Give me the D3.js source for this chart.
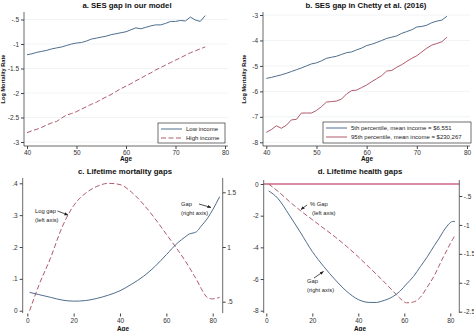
<!DOCTYPE html>
<html>
<head>
<meta charset="utf-8">
<script src="https://cdn.jsdelivr.net/npm/d3@7"></script>
<style>
  body { margin: 0; background: #fff; }
  svg { display: block; font-family: 'Liberation Sans', Arial, sans-serif; }
  .tick text { fill: #333; }
</style>
</head>
<body>
<div id="chart"></div>
<script>
// ---- data ----

// a. model: log mortality rate by age
var agesA = d3.range(40, 77)
var lowIncome = [-1.22, -1.20, -1.17, -1.15, -1.13, -1.10, -1.08, -1.06, -1.03, -1.00,
  -0.98, -0.97, -0.94, -0.90, -0.88, -0.86, -0.84, -0.81, -0.79, -0.77,
  -0.75, -0.71, -0.67, -0.69, -0.66, -0.63, -0.61, -0.61, -0.58, -0.54,
  -0.54, -0.52, -0.53, -0.45, -0.51, -0.54, -0.42]
var highIncome = [-2.81, -2.77, -2.74, -2.70, -2.65, -2.61, -2.58, -2.51, -2.45, -2.42,
  -2.38, -2.33, -2.28, -2.23, -2.19, -2.13, -2.08, -2.03, -1.97, -1.91,
  -1.86, -1.81, -1.75, -1.70, -1.64, -1.59, -1.53, -1.48, -1.43, -1.38,
  -1.33, -1.28, -1.23, -1.18, -1.14, -1.10, -1.06]

// b. Chetty et al. percentiles
var agesB = d3.range(40, 77)
var pct5 = [-5.49, -5.45, -5.40, -5.35, -5.29, -5.22, -5.15, -5.08, -5.00, -4.92,
  -4.88, -4.80, -4.70, -4.66, -4.62, -4.55, -4.48, -4.45, -4.37, -4.30,
  -4.20, -4.15, -4.08, -4.00, -3.92, -3.87, -3.82, -3.72, -3.65, -3.58,
  -3.47, -3.45, -3.40, -3.30, -3.24, -3.20, -3.05]
var pct95 = [-7.61, -7.50, -7.35, -7.45, -7.33, -7.12, -7.10, -6.85, -6.85, -6.85,
  -6.75, -6.60, -6.42, -6.40, -6.38, -6.30, -6.10, -5.97, -5.95, -5.85,
  -5.75, -5.62, -5.50, -5.38, -5.20, -5.18, -5.05, -4.95, -4.82, -4.70,
  -4.60, -4.45, -4.30, -4.18, -4.12, -4.05, -3.87]

// c. lifetime mortality gaps
var agesC = [1, 5, 10, 15, 20, 25, 30, 35, 40, 45, 50, 55, 60, 65, 68, 70, 72, 73, 75, 78, 80, 83]
var logGap = [0.0, 0.08, 0.165, 0.262, 0.33, 0.368, 0.39, 0.40, 0.396, 0.372, 0.335, 0.29,
  0.24, 0.19, 0.158, 0.135, 0.11, 0.098, 0.07, 0.04, 0.037, 0.042]
var mortGap = [0.585, 0.565, 0.54, 0.515, 0.505, 0.51, 0.53, 0.56, 0.60, 0.66, 0.73, 0.82,
  0.93, 1.04, 1.09, 1.12, 1.13, 1.14, 1.19, 1.27, 1.34, 1.46]

// d. lifetime health gaps
var agesD = [1, 5, 10, 15, 20, 25, 30, 35, 40, 45, 48, 50, 55, 58, 61, 64, 67, 70, 73, 75, 77, 79, 80, 81, 82]
var pctGap = [0, -0.45, -1.1, -1.7, -2.25, -2.8, -3.35, -3.95, -4.6, -5.3, -5.72, -6.0,
  -6.75, -7.2, -7.5, -7.45, -7.15, -6.5, -5.8, -5.2, -4.6, -4.05, -3.75, -3.5, -3.25]
var healthGap = [-0.41, -0.54, -0.83, -1.14, -1.46, -1.72, -1.95, -2.15, -2.29, -2.34, -2.34,
  -2.32, -2.24, -2.15, -2.02, -1.89, -1.72, -1.55, -1.36, -1.24, -1.11, -1.0, -0.96, -0.94, -0.94]

var ticksA = [-3, -2.5, -2, -1.5, -1, -0.5]
var ticksB = [-8, -7, -6, -5, -4, -3]
var ticksAgeAB = [40, 50, 60, 70, 80]
var ticksAgeCD = [0, 20, 40, 60, 80]
var ticksCLeft = [0, 0.1, 0.2, 0.3, 0.4]
var ticksCRight = [0.5, 1, 1.5]
var ticksDLeft = [-8, -6, -4, -2, 0]
var ticksDRight = [-2.5, -2, -1.5, -1, -0.5]

// ---- styles ----
var blue = '#4f6e8e'
var red = '#b05a6b'
var axisColor = '#444'
var fmt = function(d) { return String(d).replace(/^(-?)0\./, '$1.') }

var svg = d3.select('#chart')
  .append('svg')
  .attr('width', 474)
  .attr('height', 331)

svg.append('defs').append('marker')
  .attr('id', 'arrow')
  .attr('viewBox', '0 0 10 10')
  .attr('refX', 9)
  .attr('refY', 5)
  .attr('markerWidth', 5)
  .attr('markerHeight', 5)
  .attr('orient', 'auto')
  .append('path')
  .attr('d', 'M0,1L10,5L0,9Z')
  .attr('fill', '#222')

// Draws a vertical axis with ticks and labels; the line spans the plot box
function yAxis(scale, ticks, x, box, side) {
  var ax = side === 'left' ? d3.axisLeft(scale) : d3.axisRight(scale)
  ax.tickValues(ticks).tickFormat(fmt).tickSize(3).tickPadding(side === 'left' ? 2 : 1.5)
  var g = svg.append('g')
    .attr('transform', 'translate(' + x + ',0)')
    .call(ax)
  g.select('.domain').remove()
  g.selectAll('.tick line').attr('stroke', axisColor)
  g.selectAll('.tick text').attr('font-size', 6.5)
  svg.append('line')
    .attr('x1', x).attr('x2', x)
    .attr('y1', box.top).attr('y2', box.bottom)
    .attr('stroke', axisColor)
    .attr('stroke-width', 0.8)
}

function xAxis(scale, ticks, y, box, showLine) {
  var g = svg.append('g')
    .attr('transform', 'translate(0,' + y + ')')
    .call(d3.axisBottom(scale).tickValues(ticks).tickSize(3).tickPadding(1.5))
  g.select('.domain').remove()
  g.selectAll('.tick line').attr('stroke', axisColor)
  g.selectAll('.tick text').attr('font-size', 6.5)
  if (showLine) {
    svg.append('line')
      .attr('x1', box.left).attr('x2', box.right)
      .attr('y1', y).attr('y2', y)
      .attr('stroke', axisColor)
      .attr('stroke-width', 0.8)
  }
}

function title(text, x, y) {
  svg.append('text')
    .text(text)
    .attr('x', x)
    .attr('y', y)
    .attr('text-anchor', 'middle')
    .attr('font-size', 7.8)
    .attr('font-weight', 'bold')
    .attr('fill', '#111')
}

function axisLabel(text, x, y, rotate) {
  svg.append('text')
    .text(text)
    .attr('transform', 'translate(' + x + ',' + y + ')' + (rotate ? ' rotate(-90)' : ''))
    .attr('text-anchor', 'middle')
    .attr('font-size', rotate ? 5.6 : 6.4)
    .attr('font-weight', 'bold')
    .attr('fill', '#111')
}

function series(ages, values, x, y, color, dashed, curve) {
  var line = d3.line()
    .x(function(d, i) { return x(ages[i]) })
    .y(function(d) { return y(d) })
    .curve(curve || d3.curveLinear)
  svg.append('path')
    .datum(values)
    .attr('d', line)
    .attr('fill', 'none')
    .attr('stroke', color)
    .attr('stroke-width', 1)
    .attr('stroke-dasharray', dashed ? '5,2.5' : null)
}

function grid(scale, ticks, box) {
  svg.append('g')
    .selectAll('line')
    .data(ticks)
    .enter()
    .append('line')
    .attr('x1', box.left)
    .attr('x2', box.right)
    .attr('y1', function(d) { return scale(d) })
    .attr('y2', function(d) { return scale(d) })
    .attr('stroke', '#eef1f4')
    .attr('stroke-width', 0.8)
}

function legend(box, items) {
  svg.append('rect')
    .attr('x', box.x).attr('y', box.y)
    .attr('width', box.w).attr('height', box.h)
    .attr('fill', '#fff')
    .attr('stroke', '#333')
    .attr('stroke-width', 0.7)
  items.forEach(function(it, i) {
    var yy = box.y + 6 + i * 9
    svg.append('line')
      .attr('x1', box.x + 3).attr('x2', box.x + 24)
      .attr('y1', yy).attr('y2', yy)
      .attr('stroke', it.color)
      .attr('stroke-width', 1)
      .attr('stroke-dasharray', it.dashed ? '5,2.5' : null)
    svg.append('text')
      .text(it.label)
      .attr('x', box.x + 28)
      .attr('y', yy + 2.2)
      .attr('font-size', 6)
      .attr('fill', '#222')
  })
}

function note(lines, x, y) {
  lines.forEach(function(t, i) {
    svg.append('text')
      .text(t)
      .attr('x', x)
      .attr('y', y + i * 9)
      .attr('font-size', 5.8)
      .attr('fill', '#222')
  })
}

function arrow(x1, y1, x2, y2) {
  svg.append('line')
    .attr('x1', x1).attr('y1', y1)
    .attr('x2', x2).attr('y2', y2)
    .attr('stroke', '#222')
    .attr('stroke-width', 0.8)
    .attr('marker-end', 'url(#arrow)')
}

// ---- a. SES gap in our model ----
var boxA = { left: 24, right: 228, top: 12, bottom: 146 }
var xA = d3.scaleLinear().domain([40, 80]).range([27, 225])
var yA = d3.scaleLinear().domain([-3, -0.5]).range([142, 19.5])
grid(yA, ticksA, boxA)
yAxis(yA, ticksA, boxA.left, boxA, 'left')
xAxis(xA, ticksAgeAB, boxA.bottom, boxA, true)
series(agesA, lowIncome, xA, yA, blue, false)
series(agesA, highIncome, xA, yA, red, true)
legend({ x: 158, y: 123, w: 67, h: 20 }, [
  { label: 'Low income', color: blue },
  { label: 'High income', color: red, dashed: true }
])
title('a. SES gap in our model', 127, 8)
axisLabel('Log Mortality Rate', 5, 79, true)
axisLabel('Age', 126, 161, false)

// ---- b. SES gap in Chetty et al. (2016) ----
var boxB = { left: 263, right: 470, top: 12, bottom: 146 }
var xB = d3.scaleLinear().domain([40, 80]).range([266.3, 467])
var yB = d3.scaleLinear().domain([-8, -3]).range([142.3, 15])
grid(yB, ticksB, boxB)
yAxis(yB, ticksB, boxB.left, boxB, 'left')
xAxis(xB, ticksAgeAB, boxB.bottom, boxB, true)
series(agesB, pct5, xB, yB, blue, false)
series(agesB, pct95, xB, yB, red, false)
legend({ x: 323, y: 122, w: 148, h: 21 }, [
  { label: '5th percentile, mean income = $6,551', color: blue },
  { label: '95th percentile, mean income = $230,267', color: red }
])
title('b. SES gap in Chetty et al. (2016)', 366, 8)
axisLabel('Log Mortality Rate', 246, 79, true)
axisLabel('Age', 367, 161, false)

// ---- c. Lifetime mortality gaps ----
var boxC = { left: 22.7, right: 222.7, top: 178, bottom: 313 }
var xC = d3.scaleLinear().domain([0, 80]).range([27.3, 212.7])
var yCLeft = d3.scaleLinear().domain([0, 0.4]).range([310.7, 183.3])
var yCRight = d3.scaleLinear().domain([0.5, 1.5]).range([301.7, 192.3])
yAxis(yCLeft, ticksCLeft, boxC.left, boxC, 'left')
yAxis(yCRight, ticksCRight, boxC.right, boxC, 'right')
xAxis(xC, ticksAgeCD, 313.5, boxC, false)
series(agesC, logGap, xC, yCLeft, red, true, d3.curveMonotoneX)
series(agesC, mortGap, xC, yCRight, blue, false, d3.curveMonotoneX)
note(['Log gap', '(left axis)'], 35, 213)
arrow(57.5, 211, 68, 215)
note(['Gap', '(right axis)'], 181, 206)
arrow(199, 204, 211, 207.5)
title('c. Lifetime mortality gaps', 125, 174)
axisLabel('Age', 123, 331, false)

// ---- d. Lifetime health gaps ----
var boxD = { left: 263.7, right: 459.3, top: 180, bottom: 313 }
var xD = d3.scaleLinear().domain([0, 80]).range([266.3, 450.3])
var yDLeft = d3.scaleLinear().domain([-8, 0]).range([310.7, 184])
var yDRight = d3.scaleLinear().domain([-2.5, -0.5]).range([311.7, 196])
svg.append('line')
  .attr('x1', boxD.left).attr('x2', boxD.right)
  .attr('y1', yDLeft(0)).attr('y2', yDLeft(0))
  .attr('stroke', '#d88fa3')
  .attr('stroke-width', 2)
yAxis(yDLeft, ticksDLeft, boxD.left, boxD, 'left')
yAxis(yDRight, ticksDRight, boxD.right, boxD, 'right')
xAxis(xD, ticksAgeCD, 313.5, boxD, false)
series(agesD, pctGap, xD, yDLeft, red, true, d3.curveMonotoneX)
series(agesD, healthGap, xD, yDRight, blue, false, d3.curveMonotoneX)
note(['% Gap'], 310, 206)
note(['(left axis)'], 312, 215)
arrow(307, 205, 301, 209.5)
note(['Gap', '(right axis)'], 307, 283)
arrow(314, 278, 323.5, 271.5)
title('d. Lifetime health gaps', 360, 174)
axisLabel('Age', 360, 331, false)
</script>
</body>
</html>
